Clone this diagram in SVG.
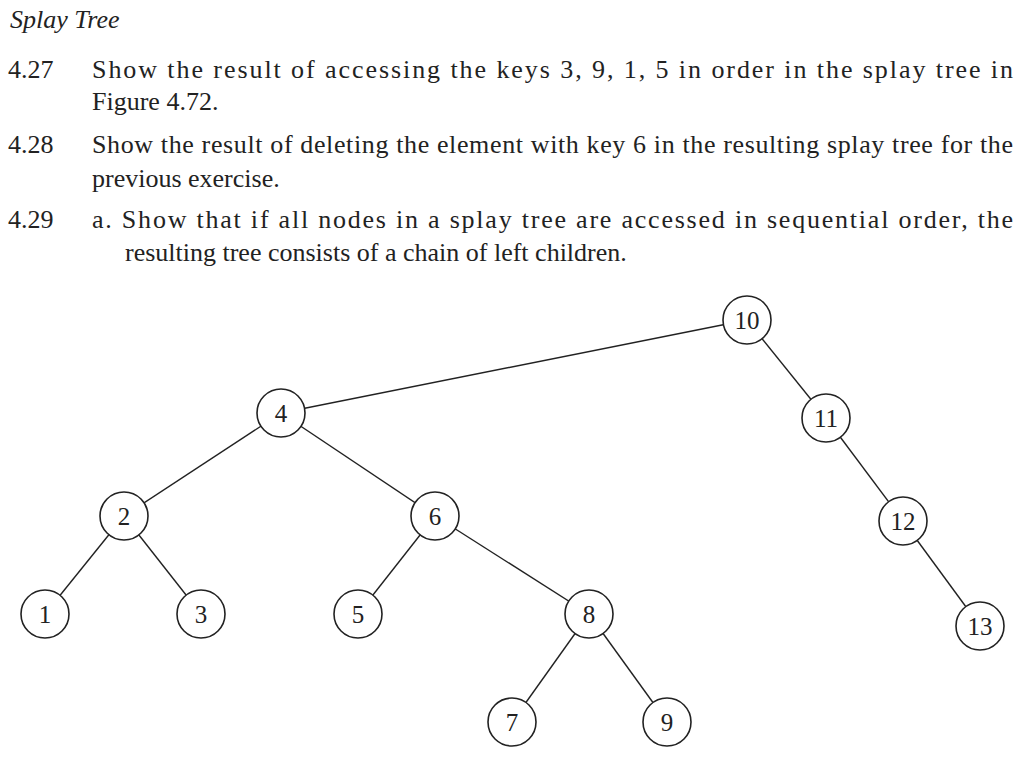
<svg xmlns="http://www.w3.org/2000/svg" width="1024" height="765" viewBox="0 0 1024 765">
<style>
text{font-family:"Liberation Serif","DejaVu Serif",serif;fill:#222}
.t{font-size:26px}
.n circle{fill:#fff;stroke:#222;stroke-width:1.6}
.n text{font-size:25px;text-anchor:middle}
#edges line{stroke:#222;stroke-width:1.4}
</style>
<rect width="1024" height="765" fill="#fff"/>
<text x="10" y="28" class="t" font-style="italic">Splay Tree</text>
<text x="8" y="78" class="t">4.27</text>
<text x="92" y="78" class="t" textLength="921" lengthAdjust="spacing">Show the result of accessing the keys 3, 9, 1, 5 in order in the splay tree in</text>
<text x="92" y="110" class="t">Figure 4.72.</text>
<text x="8" y="153" class="t">4.28</text>
<text x="92" y="153" class="t" textLength="921" lengthAdjust="spacing">Show the result of deleting the element with key 6 in the resulting splay tree for the</text>
<text x="92" y="187" class="t">previous exercise.</text>
<text x="8" y="228" class="t">4.29</text>
<text x="92" y="228" class="t" textLength="921" lengthAdjust="spacing">a. Show that if all nodes in a splay tree are accessed in sequential order, the</text>
<text x="125" y="261" class="t">resulting tree consists of a chain of left children.</text>
<g id="edges">
<line x1="747" y1="320" x2="281" y2="413"/>
<line x1="747" y1="320" x2="826" y2="418"/>
<line x1="826" y1="418" x2="903" y2="521"/>
<line x1="903" y1="521" x2="980" y2="626"/>
<line x1="281" y1="413" x2="124" y2="516"/>
<line x1="281" y1="413" x2="435" y2="516"/>
<line x1="124" y1="516" x2="45" y2="614"/>
<line x1="124" y1="516" x2="201" y2="614"/>
<line x1="435" y1="516" x2="358" y2="614"/>
<line x1="435" y1="516" x2="589" y2="614"/>
<line x1="589" y1="614" x2="512" y2="722"/>
<line x1="589" y1="614" x2="667" y2="722"/>
</g>
<g id="n10" class="n"><circle cx="747" cy="320" r="24"/><text x="747" y="329">10</text></g>
<g id="n11" class="n"><circle cx="826" cy="418" r="24"/><text x="826" y="427">11</text></g>
<g id="n12" class="n"><circle cx="903" cy="521" r="24"/><text x="903" y="530">12</text></g>
<g id="n13" class="n"><circle cx="980" cy="626" r="24"/><text x="980" y="635">13</text></g>
<g id="n4" class="n"><circle cx="281" cy="413" r="24"/><text x="281" y="422">4</text></g>
<g id="n2" class="n"><circle cx="124" cy="516" r="24"/><text x="124" y="525">2</text></g>
<g id="n6" class="n"><circle cx="435" cy="516" r="24"/><text x="435" y="525">6</text></g>
<g id="n1" class="n"><circle cx="45" cy="614" r="24"/><text x="45" y="623">1</text></g>
<g id="n3" class="n"><circle cx="201" cy="614" r="24"/><text x="201" y="623">3</text></g>
<g id="n5" class="n"><circle cx="358" cy="614" r="24"/><text x="358" y="623">5</text></g>
<g id="n8" class="n"><circle cx="589" cy="614" r="24"/><text x="589" y="623">8</text></g>
<g id="n7" class="n"><circle cx="512" cy="722" r="24"/><text x="512" y="731">7</text></g>
<g id="n9" class="n"><circle cx="667" cy="722" r="24"/><text x="667" y="731">9</text></g>
</svg>
